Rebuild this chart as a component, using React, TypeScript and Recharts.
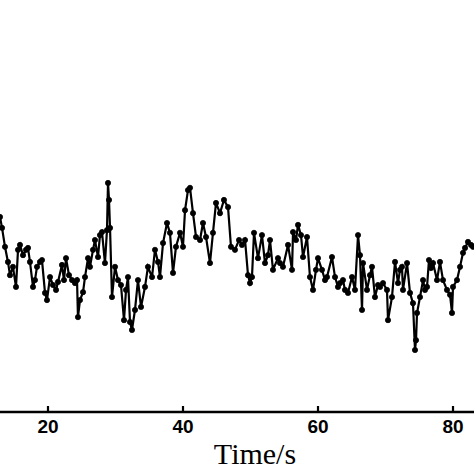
import React from 'react';
import { LineChart, Line, XAxis, YAxis } from 'recharts';

const times: number[] = [
  12.44, 12.89, 13.19, 13.63, 14.07, 14.37, 14.81, 15.26, 15.56, 15.85, 16.3, 16.74, 17.04, 17.33, 17.78, 18.07,
  18.37, 18.81, 19.11, 19.56, 19.85, 20.3, 20.74, 21.19, 21.48, 22.07, 22.37, 22.67, 23.11, 23.56, 24.0, 24.3,
  24.44, 24.74, 25.19, 25.48, 25.93, 26.22, 26.67, 26.96, 27.41, 27.7, 28.0, 28.44, 28.74, 28.89, 29.04, 29.19,
  29.48, 29.93, 30.37, 30.81, 31.26, 31.56, 31.85, 32.15, 32.44, 32.89, 33.33, 33.78, 34.37, 34.81, 35.41, 35.85,
  36.3, 36.59, 37.04, 37.63, 38.07, 38.52, 38.96, 39.56, 40.0, 40.3, 40.74, 41.04, 41.48, 41.93, 42.52, 42.96,
  43.41, 44.0, 44.44, 44.89, 45.48, 46.07, 46.67, 47.11, 47.7, 48.3, 48.74, 49.19, 49.63, 49.93, 50.22, 50.52,
  51.11, 51.7, 52.15, 52.59, 52.89, 53.33, 54.07, 54.37, 54.81, 55.56, 56.15, 56.3, 56.74, 57.04, 57.48, 57.78,
  58.37, 58.81, 59.26, 59.7, 60.0, 60.59, 61.04, 61.33, 62.07, 62.52, 62.96, 63.26, 63.7, 64.0, 64.44, 65.04,
  65.48, 65.93, 66.22, 66.52, 66.67, 67.26, 67.7, 68.0, 68.44, 68.89, 69.19, 69.63, 70.22, 70.37, 70.96, 71.41,
  71.85, 72.15, 72.44, 72.59, 73.19, 73.63, 74.07, 74.37, 74.52, 74.67, 75.11, 75.56, 75.85, 76.15, 76.44, 76.74,
  77.04, 77.63, 78.07, 78.52, 79.11, 79.56, 79.85, 80.0, 80.59, 81.04, 81.48, 81.78, 82.22, 82.67, 82.96, 83.56,
];

const values: number[] = [
  5.21, 5.16, 4.87, 4.37, 3.97, 3.62, 3.84, 3.31, 4.29, 4.42, 4.15, 4.29, 4.34, 3.97, 3.31, 3.49,
  3.84, 3.97, 4.02, 3.15, 2.96, 3.57, 3.36, 3.23, 3.44, 3.89, 3.49, 4.07, 3.62, 3.49, 3.41, 3.49,
  2.51, 2.96, 3.17, 3.57, 4.07, 3.84, 4.29, 4.55, 4.1, 4.68, 4.76, 3.94, 4.81, 6.06, 5.61, 4.87,
  3.04, 3.84, 3.49, 3.36, 2.43, 3.23, 3.57, 2.38, 2.17, 2.7, 3.49, 2.78, 3.31, 3.84, 3.57, 4.29,
  3.97, 3.57, 4.47, 5.0, 4.74, 3.68, 4.37, 4.74, 4.37, 5.34, 5.87, 5.93, 5.26, 4.63, 4.55, 5.0,
  4.63, 3.94, 4.74, 5.53, 5.26, 5.61, 5.42, 4.37, 4.29, 4.55, 4.42, 4.55, 3.62, 3.41, 3.57, 4.74,
  4.07, 4.68, 3.94, 4.15, 4.55, 3.76, 4.07, 3.94, 3.84, 4.42, 3.76, 4.76, 4.55, 4.95, 4.68, 4.1,
  4.63, 3.57, 3.23, 3.76, 4.07, 3.76, 3.49, 3.57, 4.1, 3.57, 3.31, 3.41, 3.49, 3.23, 3.15, 3.57,
  3.23, 4.68, 4.15, 2.7, 3.94, 3.23, 3.62, 3.84, 3.04, 3.36, 3.31, 3.41, 3.23, 2.43, 3.04, 3.97,
  3.41, 3.76, 3.84, 3.23, 3.94, 3.15, 2.88, 1.64, 1.9, 2.62, 3.04, 3.49, 3.23, 3.31, 4.02, 3.81,
  3.94, 3.49, 3.97, 3.49, 3.23, 3.1, 2.62, 3.31, 3.49, 3.84, 4.21, 4.34, 4.5, 4.42, 4.37, 4.55,
];

const xTicks: number[] = [20, 40, 60, 80];
const xLabel = 'Time/s';

const data = times.map((t, i) => ({ t, v: values[i] }));

const X_DOMAIN: [number, number] = [12.89, 83.11];

const BottomTick = (props: any) => {
  const { x, y, payload } = props;
  return (
    <g>
      <line x1={x} x2={x} y1={y} y2={y - 6} stroke="#000" strokeWidth={2.2} />
      <text
        x={x}
        y={y + 21}
        textAnchor="middle"
        fontFamily="'Liberation Sans', Arial, sans-serif"
        fontWeight="bold"
        fontSize={19}
        fill="#000"
      >
        {payload.value}
      </text>
    </g>
  );
};

const TopTick = (props: any) => {
  const { x, y } = props;
  return <line x1={x} x2={x} y1={y} y2={y + 6} stroke="#000" strokeWidth={2.2} />;
};

export default function App() {
  return (
    <div style={{ position: 'fixed', left: 0, top: 0, width: 474, height: 474, background: '#fff' }}>
      <LineChart width={474} height={474} data={data} margin={{ top: 34, right: 0, bottom: 0, left: 0 }}>
        <XAxis
          dataKey="t"
          type="number"
          domain={X_DOMAIN}
          allowDataOverflow
          ticks={xTicks}
          height={62}
          tickSize={0}
          tickMargin={0}
          tickLine={false}
          axisLine={{ stroke: '#000', strokeWidth: 2.4 }}
          tick={<BottomTick />}
          interval={0}
          label={{
            value: xLabel,
            content: (p: any) => {
              const vb = p.viewBox;
              return (
                <text
                  x={vb.x + vb.width / 2 + 18}
                  y={464}
                  textAnchor="middle"
                  fontFamily="'Liberation Serif', 'Times New Roman', serif"
                  fontSize={30}
                  fill="#000"
                >
                  {xLabel}
                </text>
              );
            },
          }}
        />
        <XAxis
          xAxisId="top"
          orientation="top"
          dataKey="t"
          type="number"
          domain={X_DOMAIN}
          allowDataOverflow
          ticks={xTicks}
          height={0}
          tickSize={0}
          tickMargin={0}
          tickLine={false}
          axisLine={{ stroke: '#000', strokeWidth: 2.4 }}
          tick={<TopTick />}
          interval={0}
        />
        <YAxis hide width={0} type="number" domain={[0, 10]} allowDataOverflow />
        <Line
          dataKey="v"
          stroke="#000"
          strokeWidth={2.2}
          dot={{ r: 2.6, fill: '#000', stroke: '#000', strokeWidth: 0.8 }}
          activeDot={false}
          isAnimationActive={false}
        />
      </LineChart>
    </div>
  );
}
